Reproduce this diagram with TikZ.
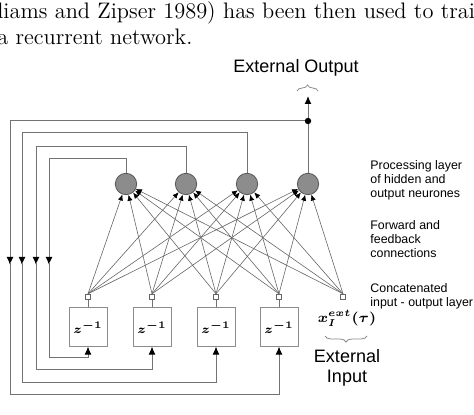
\documentclass[tikz,border=0pt]{standalone}
\usepackage{amsmath}
\usepackage{fontspec}
\newfontfamily\arial{Liberation Sans}
\usetikzlibrary{arrows.meta,decorations.pathreplacing}

\begin{document}
\begin{tikzpicture}[x=0.5pt, y=-0.5pt]
	\tikzset{neurone/.style={circle, draw=black!65, fill=black!45, minimum size=10.7pt, inner sep=0pt},
		entree/.style={rectangle, draw=black!60, fill=white, minimum size=2.8pt, inner sep=0pt},
		retard/.style={rectangle, draw=black!45, line width=0.5pt, minimum size=19pt, inner sep=0pt, font=\fontsize{6.5}{7}\selectfont},
		fleche/.style={-{Latex[length=3pt, width=2.6pt, color=black]}, draw=black!60, line width=0.3pt},
		boucle/.style={draw=black!55, line width=0.5pt},
		retour/.style={boucle, -{Latex[length=4pt, width=3.4pt, color=black]}},
		accolade/.style={draw=black!45, line width=0.4pt, decorate, decoration={brace, amplitude=3pt}},
		legende/.style={font=\arial\fontsize{6.2}{7}\selectfont, align=left, anchor=north west, inner sep=0pt},
		titre/.style={font=\arial\fontsize{9}{10}\selectfont, align=center, inner sep=0pt}};
	\useasboundingbox (0,0) rectangle (474,415);

	% texte du document
	\node[anchor=base west, inner sep=0pt, font=\fontsize{11.2}{13}\selectfont] (ligne1) at (-3,19) {liams and Zipser 1989) has been then used to train};
	\node[anchor=base west, inner sep=0pt, font=\fontsize{11.2}{13}\selectfont] (ligne2) at (-3,45) {a recurrent network.};

	% couche de traitement
	\node[neurone] (n1) at (126,184) {};
	\node[neurone] (n2) at (186,184) {};
	\node[neurone] (n3) at (247,184) {};
	\node[neurone] (n4) at (308,184) {};

	% couche d'entree
	\node[entree] (i1) at ( 88,297) {};
	\node[entree] (i2) at (152,297) {};
	\node[entree] (i3) at (216,297) {};
	\node[entree] (i4) at (279,297) {};
	\node[entree] (i5) at (343,297) {};

	\node[retard] (d1) at ( 88,327) {$\boldsymbol{z^{-1}}$};
	\node[retard] (d2) at (152,327) {$\boldsymbol{z^{-1}}$};
	\node[retard] (d3) at (216,327) {$\boldsymbol{z^{-1}}$};
	\node[retard] (d4) at (279,327) {$\boldsymbol{z^{-1}}$};

	\node[inner sep=0pt, font=\fontsize{7.5}{8}\selectfont] (xext) at (347,318) {$\boldsymbol{x_{I}^{\scriptscriptstyle ext}(\tau)}$};

	\coordinate (pt) at (308,121);
	\coordinate (eo) at (308,96);

	% textes
	\node[titre] (sortie) at (296,68) {External Output};
	\node[titre] (entext) at (347,368) {External\\Input};
	\node[legende] (l1) at (370,160) {Processing layer\\of hidden and\\output neurones};
	\node[legende] (l2) at (370,220) {Forward and\\feedback\\connections};
	\node[legende] (l3) at (370,283) {Concatenated\\input - output layer};

	% connexions
	\draw[fleche] (i1.north) -- (n1);
	\draw[fleche] (i1.north) -- (n2);
	\draw[fleche] (i1.north) -- (n3);
	\draw[fleche] (i1.north) -- (n4);
	\draw[fleche] (i2.north) -- (n1);
	\draw[fleche] (i2.north) -- (n2);
	\draw[fleche] (i2.north) -- (n3);
	\draw[fleche] (i2.north) -- (n4);
	\draw[fleche] (i3.north) -- (n1);
	\draw[fleche] (i3.north) -- (n2);
	\draw[fleche] (i3.north) -- (n3);
	\draw[fleche] (i3.north) -- (n4);
	\draw[fleche] (i4.north) -- (n1);
	\draw[fleche] (i4.north) -- (n2);
	\draw[fleche] (i4.north) -- (n3);
	\draw[fleche] (i4.north) -- (n4);
	\draw[fleche] (i5.north) -- (n1);
	\draw[fleche] (i5.north) -- (n2);
	\draw[fleche] (i5.north) -- (n3);
	\draw[fleche] (i5.north) -- (n4);

	\draw[boucle] (d1.north) -- (i1.south);
	\draw[boucle] (d2.north) -- (i2.south);
	\draw[boucle] (d3.north) -- (i3.south);
	\draw[boucle] (d4.north) -- (i4.south);

	% retours
	\draw[retour] (n1.north) |- (49,159) -- (49,265);
	\draw[retour] (49,262) -- (49,357) -| (d1.south);
	\draw[retour] (n2.north) |- (36,147) -- (36,265);
	\draw[retour] (36,262) -- (36,369) -| (d2.south);
	\draw[retour] (n3.north) |- (22,133) -- (22,265);
	\draw[retour] (22,262) -- (22,382) -| (d3.south);
	\draw[retour] (pt) -- (10,121) -- (10,265);
	\draw[retour] (10,262) -- (10,394) -| (d4.south);

	\draw[retour] (n4.north) -- (eo);
	\fill (pt) circle (1.6pt);

	\draw[accolade] (297,91) -- (318,91);
	\draw[accolade] (367,336) -- (325,336);
\end{tikzpicture}
\end{document}
